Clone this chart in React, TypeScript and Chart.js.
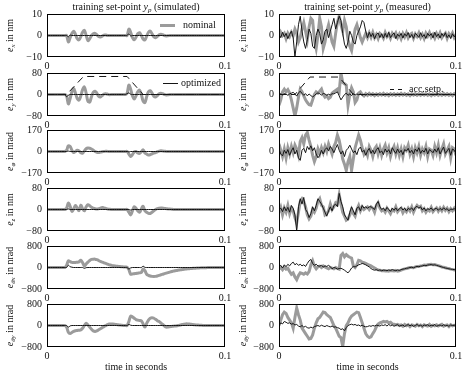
import React, { useEffect, useRef } from "react";
import { Chart, registerables } from "chart.js";

Chart.register(...registerables);

// ---------- data ----------
// sampling grid of all traces: 0 ... 0.1 s, 1 ms step
const TIME = Array.from({ length: 101 }, (_, i) => i / 1000);

const Y_LIMITS = [10, 80, 170, 80, 800, 800];
const X_TICKS = [0, 0.1];
const COLUMN_TITLES = ["(simulated)", "(measured)"];
const Y_SUBSCRIPTS = ["x", "y", "φ", "z", "θx", "θy"];
const Y_UNITS = [" in nm", " in nm", " in nrad", " in nm", " in nrad", " in nrad"];
const LEGEND_LABELS = { nominal: "nominal", optimized: "optimized", setpoint: "acc.setp." };

// acceleration set-point (scaled), drawn dashed in the e_y panels
const SET_SIM_T = [0, 0.011, 0.0205, 0.045, 0.054, 0.1];
const SET_SIM_V = [0, 0, 67, 67, 0, 0];
const SET_MEAS_T = [0, 0.009, 0.0175, 0.034, 0.042, 0.1];
const SET_MEAS_V = [0, 0, 65, 65, 0, 0];

// ----- simulated (left column) -----
const SIM_X_NOM = [
  0, 0, 0, 0, 0, 0, 0, 0, 0, 0,
  0, 0, -3, -1, 1, 2, 0.5, -1.5, -2, -0.5,
  1.5, 2.4, 0, -2.4, -1.5, 0, 0.8, 1, 0.3, -0.5,
  -0.7, -0.3, 0.2, 0.2, 0, 0, 0, 0, 0, 0,
  0, 0, 0, 0, 0, 0, 3, 1.5, -1, -2,
  -0.8, 0.8, 1.3, 0, -1.6, -2, -0.3, 1.5, 2, 0.8,
  -0.6, -1, -0.4, 0.3, 0.6, 0.4, 0, -0.2, -0.1, 0,
  0, 0, 0, 0, 0, 0, 0, 0, 0, 0,
  0, 0, 0, 0, 0, 0, 0, 0, 0, 0,
  0, 0, 0, 0, 0, 0, 0, 0, 0, 0,
  0,
];
const SIM_X_OPT = [
  0, 0, 0, 0, 0, 0, 0, 0, 0, 0,
  0, 0, -0.6, 0.2, 0, 0, 0, 0, 0, 0,
  0, 0, 0, 0, 0, 0, 0, 0, 0, 0,
  0, 0, 0, 0, 0, 0, 0, 0, 0, 0,
  0, 0, 0, 0, 0, 0, 0.8, -0.2, 0, 0,
  0, 0, 0, 0, 0, 0, 0, 0, 0, 0,
  0, 0, 0, 0, 0, 0, 0, 0, 0, 0,
  0, 0, 0, 0, 0, 0, 0, 0, 0, 0,
  0, 0, 0, 0, 0, 0, 0, 0, 0, 0,
  0, 0, 0, 0, 0, 0, 0, 0, 0, 0,
  0,
];
const SIM_Y_NOM = [
  0, 0, 0, 0, 0, 0, 0, 0, 0, 0,
  0, -5, -35, -15, 10, 23, 5, -15, -21, -5,
  18, 28, 5, -25, -28, -8, 8, 12, 5, -6,
  -9, -4, 2, 3, 1, -1, 0, 0, 0, 0,
  0, 0, 0, 0, 0, 5, 35, 20, -5, -17,
  -5, 10, 16, 0, -25, -30, -8, 10, 14, 5,
  -6, -9, -4, 3, 5, 3, 0, -2, -1, 0,
  0, 0, 0, 0, 0, 0, 0, 0, 0, 0,
  0, 0, 0, 0, 0, 0, 0, 0, 0, 0,
  0, 0, 0, 0, 0, 0, 0, 0, 0, 0,
  0,
];
const SIM_Y_OPT = [
  0, 0, 0, 0, 0, 0, 0, 0, 0, 0,
  0, -8, -3, 0, 0, 0, 0, 0, 0, 0,
  0, 0, 0, 0, 0, 0, 0, 0, 0, 0,
  0, 0, 0, 0, 0, 0, 0, 0, 0, 0,
  0, 0, 0, 0, 0, 3, 6, 1, 0, 0,
  0, 0, 0, 0, 0, 0, 0, 0, 0, 0,
  0, 0, 0, 0, 0, 0, 0, 0, 0, 0,
  0, 0, 0, 0, 0, 0, 0, 0, 0, 0,
  0, 0, 0, 0, 0, 0, 0, 0, 0, 0,
  0, 0, 0, 0, 0, 0, 0, 0, 0, 0,
  0,
];
const SIM_PHI_NOM = [
  0, 0, 0, 0, 0, 0, 0, 0, 0, 0,
  0, 10, 45, 40, 10, -8, 0, 10, 5, -10,
  -13, 5, 22, 28, 26, 20, 10, 0, -6, -8,
  -5, -2, 0, 2, 1, 0, 0, 0, 0, 0,
  0, 0, 0, 0, 0, 0, -20, -39, -25, -3,
  0, -12, -15, -2, 13, -12, -20, -28, -25, -18,
  -12, -8, -2, 3, 5, 4, 2, 0, 0, 0,
  0, 0, 0, 0, 0, 0, 0, 0, 0, 0,
  0, 0, 0, 0, 0, 0, 0, 0, 0, 0,
  0, 0, 0, 0, 0, 0, 0, 0, 0, 0,
  0,
];
const SIM_PHI_OPT = [
  0, 0, 0, 0, 0, 0, 0, 0, 0, 0,
  0, 0, 3, 0, 0, 0, 0, 0, 0, 0,
  0, 0, 0, 0, 0, 0, 0, 0, 0, 0,
  0, 0, 0, 0, 0, 0, 0, 0, 0, 0,
  0, 0, 0, 0, 0, 0, -3, 0, 0, 0,
  0, 0, 0, 0, 0, 0, 0, 0, 0, 0,
  0, 0, 0, 0, 0, 0, 0, 0, 0, 0,
  0, 0, 0, 0, 0, 0, 0, 0, 0, 0,
  0, 0, 0, 0, 0, 0, 0, 0, 0, 0,
  0, 0, 0, 0, 0, 0, 0, 0, 0, 0,
  0,
];
const SIM_Z_NOM = [
  0, 0, 0, 0, 0, 0, 0, 0, 0, 0,
  0, 5, 24, 12, -7, 2, 15, 5, -4, 16,
  3, -5, 10, 18, 14, 8, 5, 3, 2, 3,
  5, 7, 6, 4, 2, 1, 0, 0, 0, 0,
  0, 0, 0, 0, 0, 0, -10, -20, -5, 10,
  5, -5, -10, 2, 12, -5, -10, -14, -15, -10,
  -5, 0, 3, 5, 6, 5, 4, 3, 2, 2,
  1, 0, 0, 0, 0, 0, 0, 0, 0, 0,
  0, 0, 0, 0, 0, 0, 0, 0, 0, 0,
  0, 0, 0, 0, 0, 0, 0, 0, 0, 0,
  0,
];
const SIM_Z_OPT = [
  0, 0, 0, 0, 0, 0, 0, 0, 0, 0,
  0, 0, 2, 0, 0, 0, 0, 0, 0, 0,
  0, 0, 0, 0, 0, 0, 0, 0, 0, 0,
  0, 0, 0, 0, 0, 0, 0, 0, 0, 0,
  0, 0, 0, 0, 0, 0, 0, -2, 0, 0,
  0, 0, 0, 0, 0, 0, 0, 0, 0, 0,
  0, 0, 0, 0, 0, 0, 0, 0, 0, 0,
  0, 0, 0, 0, 0, 0, 0, 0, 0, 0,
  0, 0, 0, 0, 0, 0, 0, 0, 0, 0,
  0, 0, 0, 0, 0, 0, 0, 0, 0, 0,
  0,
];
const SIM_TX_NOM = [
  0, 0, 0, 0, 0, 0, 0, 0, 0, 0,
  0, 80, 250, 220, 190, 185, 190, 195, 210, 270,
  180, 60, 130, 200, 260, 300, 310, 310, 290, 260,
  225, 200, 175, 150, 125, 100, 85, 70, 60, 50,
  42, 35, 28, 22, 15, 10, -80, -250, -240, -230,
  -220, -210, -200, -185, -60, -120, -250, -290, -315, -330,
  -335, -330, -315, -295, -270, -250, -230, -210, -190, -170,
  -150, -135, -120, -108, -96, -85, -75, -65, -57, -50,
  -44, -38, -32, -27, -22, -18, -14, -11, -8, -6,
  -4, -3, -2, -1, 0, 0, 0, 0, 0, 0,
  0,
];
const SIM_TX_OPT = [
  0, 0, 0, 0, 0, 0, 0, 0, 0, 0,
  0, 0, 80, 30, 10, 0, 0, 0, 0, 0,
  0, -30, -5, 0, 0, 0, 0, 0, 0, 0,
  0, 0, 0, 0, 0, 0, 0, 0, 0, 0,
  0, 0, 0, 0, 0, 0, -60, -15, 0, 0,
  0, 0, 0, 0, 50, 5, 0, 0, 0, 0,
  0, 0, 0, 0, 0, 0, 0, 0, 0, 0,
  0, 0, 0, 0, 0, 0, 0, 0, 0, 0,
  0, 0, 0, 0, 0, 0, 0, 0, 0, 0,
  0, 0, 0, 0, 0, 0, 0, 0, 0, 0,
  0,
];
const SIM_TY_NOM = [
  0, 0, 0, 0, 0, 0, 0, 0, 0, 0,
  0, -60, -250, -300, -260, -220, -195, -185, -175, -165,
  -100, 0, 85, 20, -60, -140, -200, -220, -200, -160,
  -120, -80, -40, -5, 30, 55, 60, 55, 45, 35,
  25, 15, 8, 4, 2, 0, 150, 350, 320, 270,
  220, 200, 185, 170, 60, -60, 80, 200, 270, 290,
  270, 230, 180, 145, 90, 40, -20, -60, -55, -45,
  -35, -25, -20, -10, 5, 20, 35, 50, 60, 60,
  55, 45, 35, 25, 20, 15, 10, 6, 3, 1,
  0, 0, 0, 0, 0, 0, 0, 0, 0, 0,
  0,
];
const SIM_TY_OPT = [
  0, 0, 0, 0, 0, 0, 0, 0, 0, 0,
  0, 0, -60, -15, 0, 0, 0, 0, 0, 0,
  0, 0, 0, 0, 0, 0, 0, 0, 0, 0,
  0, 0, 0, 0, 0, 0, 0, 0, 0, 0,
  0, 0, 0, 0, 0, 0, 40, 10, 0, 0,
  0, 0, 0, 0, 0, 0, 0, 0, 0, 0,
  0, 0, 0, 0, 0, 0, 0, 0, 0, 0,
  0, 0, 0, 0, 0, 0, 0, 0, 0, 0,
  0, 0, 0, 0, 0, 0, 0, 0, 0, 0,
  0, 0, 0, 0, 0, 0, 0, 0, 0, 0,
  0,
];

// ----- measured (right column) -----
const MEAS_X_NOM = [
  -1, 1.5, 0, 1, -1.5, 1, -0.5, 1.5, 0, 3,
  1, -3, -1, 3, 6, 2, -2, 4, 8, 7,
  -2, -6, 0, 8, 4, -6, -3, 2, 5, 1,
  -3, -5, 1, 6, 9, 5, 2, 7, 4, -2,
  -5, -7, -2, 3, 5, 2, -1, -3, -1, 1,
  -1, 1.2, -0.8, 1.5, -1, 0.5, -1.4, 1, 0.3, -1.2,
  1.4, -0.5, 0.8, -1.3, 1, -0.2, 1.2, -1, 0.6, -1.5,
  0.9, -0.7, 1.3, -1.1, 0.4, 1, -1.3, 0.7, -0.5, 1.2,
  -1, 0.6, -1.4, 1.1, -0.3, 1.4, -0.8, 0.5, -1.2, 1,
  -0.6, 1.3, -1, 0.2, 1.1, -1.3, 0.8, -0.4, 1.2, -1,
  0.4,
];
const MEAS_X_OPT = [
  0.5, -1, 1.5, -0.5, 1, -1.5, 0.5, 2, -1, -10,
  -3, 5, 9, 2, -3, -6, -2, 3, 1, -5,
  -6, 0, 3, 1, -4, -2, 2, 3, -1, 2,
  5, 8, 3, 6, 9, 7, 1, -4, -6, -3,
  2, 0, -3, -4, 0, 2, 4, 7, 6, 2,
  -1, 1.5, -0.5, 1, -1.5, 0.5, 1.2, -1, 0.8, -1.2,
  1, -0.8, 1.5, -1, 0.3, 1.2, -1.5, 0.6, -0.4, 1,
  -1.2, 0.8, -0.3, 1.4, -1, 0.5, -1.3, 1, 0.2, -0.9,
  1.3, -0.6, 0.4, -1.4, 1, -0.2, 0.9, -1.1, 1.5, -0.5,
  0.7, -1.2, 1, -0.4, 1.3, -1, 0.3, -1.4, 0.8, -0.6,
  0.5,
];
const MEAS_Y_NOM = [
  -40, -20, 10, 20, 10, 18, 5, -20, -50, -80,
  -50, -10, 20, 10, -5, -20, -30, -38, -40, -20,
  0, 10, 5, 12, 20, 0, -10, -5, -15, -10,
  5, 10, 15, 20, 10, 80, 45, 40, 35, -40,
  0, 25, 10, -30, -20, 5, 10, 0, -5, 3,
  -3, 4, -2, 3, -4, 2, -3, 3, -2, 4,
  -3, 2, -4, 3, -2, 3, -3, 2, -3, 4,
  -2, 3, -3, 2, -4, 3, -2, 3, -3, 2,
  -3, 4, -2, 3, -3, 2, -4, 3, -2, 3,
  -3, 2, -3, 4, -2, 3, -3, 2, -4, 3,
  -2,
];
const MEAS_Y_OPT = [
  0, 3, -2, 4, 1, -3, 2, 5, 8, 2,
  -6, 6, 12, 4, -3, 3, -5, 2, -4, -9,
  -4, 2, 6, 3, -2, 4, 2, -3, 1, -2,
  3, 2, 6, 10, -5, -20, -10, 0, 5, -3,
  2, -4, 3, -2, 2, -1, 2, -3, 1, -2,
  2, -1, 1.5, -2, 1, -1.5, 2, -1, 0.5, -2,
  1.5, -1, 2, -1.5, 1, -2, 1, -0.5, 1.5, -1,
  1, -1.5, 2, -1, 0.5, -1.5, 1, -2, 1.5, -0.5,
  1, -1.5, 0.5, -1, 2, -1, 1, -1.5, 0.5, -1,
  1.5, -0.5, 1, -1.5, 0.5, -1, 1.5, -1, 0.5, -0.5,
  1,
];
const MEAS_PHI_NOM = [
  60, 10, -40, 20, -50, 30, -20, 40, -10, 50,
  20, -30, 80, 110, 60, 130, 150, 90, 40, -30,
  -80, -40, 20, -20, 30, -10, 40, 0, 60, 20,
  -20, 40, 70, 130, 90, 20, -60, -100, -150, -80,
  -40, -150, -60, 30, 80, 130, 90, 30, -20, 10,
  -30, 40, 10, -40, 20, 40, -20, 30, -30, 20,
  50, -10, 30, -40, 10, 40, -20, 30, -30, 20,
  -40, 30, 10, 50, -20, 20, -40, 30, -10, 40,
  -30, 20, -10, 40, -40, 20, 10, -30, 40, -10,
  50, -30, 20, 60, -20, 10, 40, -50, 30, 20,
  -30,
];
const MEAS_PHI_OPT = [
  20, -20, -35, 10, -15, 15, -30, 5, 30, -20,
  10, -50, -70, 10, 25, -10, 40, 15, 45, 5,
  30, -20, -50, -30, 10, -20, 15, 30, 5, 40,
  20, -10, 25, 55, 10, -20, 5, -40, 10, 25,
  50, 20, -10, 5, -25, 20, 35, -5, 10, -30,
  5, 25, -15, 10, -20, 15, 30, -10, 5, -25,
  20, -5, 15, -20, 30, 5, -15, 20, -10, 10,
  -25, 15, 5, 25, -10, 10, -20, 20, 0, 30,
  -15, 10, -5, 25, -20, 15, 5, -10, 20, -5,
  30, -20, 10, 35, -15, 5, 25, -30, 20, 10,
  -15,
];
const MEAS_Z_NOM = [
  -10, 8, -20, 5, -10, 15, -15, 5, -5, -30,
  -50, -10, 30, 40, 30, 10, -20, -35, -25, 0,
  -10, 5, 30, 40, 15, 10, -20, -15, -5, 20,
  0, 10, 25, 20, 55, 20, -10, -25, -40, -35,
  -20, 0, -15, -25, 0, 15, -5, 10, 0, 5,
  10, 0, 10, 5, -10, 15, 25, 5, -5, 0,
  -10, 5, -5, -15, 0, -5, 10, -8, 0, 5,
  -12, 0, -8, 5, -5, 10, -10, 5, 15, 8,
  12, -5, 3, -10, 0, -5, 8, -8, 0, 6,
  -6, 5, -5, 8, -3, 5, -8, 3, -5, 5,
  -5,
];
const MEAS_Z_OPT = [
  0, 5, -8, 10, -5, 8, -10, 15, 5, -20,
  -80, 10, 40, 20, 45, 0, -10, -30, -15, 10,
  -5, 15, 40, 30, 20, 5, -10, -25, -5, 10,
  -5, 15, 20, 10, 60, 30, 10, -20, -30, -40,
  -10, 10, -5, -20, 5, 10, -5, 15, 5, 10,
  5, 10, 10, 5, 0, 20, 30, 10, 0, 5,
  -5, 8, 0, -8, 5, -3, 6, -5, 3, 8,
  -2, 5, -6, 4, 0, 6, -4, 8, 12, 5,
  10, -2, 6, -5, 3, 0, 6, -4, 2, 5,
  -3, 4, -2, 6, 0, 3, -5, 2, 0, 3,
  -2,
];
const MEAS_TX_NOM = [
  -50, 0, -80, 20, -60, -30, -150, -250, -200, -350,
  -450, -300, -200, -220, -250, -200, -240, -150, 100, 250,
  50, -50, 30, 50, 0, 60, 20, -20, -50, 0,
  -20, -50, 0, -30, -60, 450, 520, 400, 480, 420,
  380, 350, 60, 0, 100, 270, 250, 200, 180, 150,
  120, 90, 60, 20, -20, -60, -90, -100, -120, -110,
  -130, -120, -140, -110, -120, -130, -110, -140, -120, -100,
  -70, -50, -40, -20, 0, 0, -10, 20, 40, 40,
  60, 70, 90, 80, 100, 110, 120, 100, 110, 90,
  70, 50, 20, 10, -10, -30, -40, -60, -70, -90,
  -80,
];
const MEAS_TX_OPT = [
  50, 80, -20, 100, 30, 120, 60, 150, 200, 100,
  150, 80, 120, 60, 100, 40, 150, 250, 300, 150,
  80, 120, 60, 50, 80, 20, 60, 40, 80, 30,
  -50, 0, -20, -60, -40, -30, -60, -100, -150, -200,
  -120, -20, 40, 20, 60, 100, 120, 150, 130, 100,
  60, 20, -40, -80, -100, -80, -110, -90, -120, -100,
  -100, -120, -90, -110, -80, -100, -120, -90, -110, -80,
  -60, -50, -30, -20, 0, 10, -10, 20, 40, 30,
  50, 60, 80, 70, 90, 100, 110, 90, 100, 80,
  60, 40, 20, 0, -20, -30, -50, -60, -70, -80,
  -70,
];
const MEAS_TY_NOM = [
  0, 200, 400, 500, 450, 300, 200, 100, -100, 300,
  650, 400, 200, -100, -200, -300, -400, -500, -480, -350,
  -100, 100, 250, 300, 400, 500, 480, 400, 350, 300,
  150, 0, -100, -250, -400, -450, -780, -300, 0, 100,
  250, 350, 400, 450, 500, 480, 300, 100, -100, -300,
  -400, -450, -420, -300, -200, -50, 50, 100, 120, 150,
  130, 150, 100, 120, 60, 50, 20, 40, 0, 20,
  -30, 40, -10, 30, -40, 20, 0, -30, 40, -10,
  20, -40, 30, 0, -20, 40, -30, 10, -10, 30,
  -20, 10, 40, -30, 0, 20, -40, 30, -10, 10,
  0,
];
const MEAS_TY_OPT = [
  0, 100, 60, 150, 120, 80, 100, 50, 70, 20,
  40, -20, -50, 0, -60, -30, -80, -100, -60, -90,
  -40, -20, 0, -30, 10, -20, -40, 0, -30, -50,
  -20, -60, -50, -80, -100, -150, -120, -200, -80, 0,
  30, 50, 20, 40, 0, 20, -20, 10, -30, -50,
  -40, -10, -30, 0, -20, 10, 0, -20, 20, 0,
  30, -20, 40, -10, 20, -30, 10, 30, -20, 0,
  20, -40, 10, 30, -10, 20, -30, 0, 40, -20,
  10, -30, 20, 0, 30, -20, 10, -10, 40, -30,
  0, 20, -20, 30, -10, 10, -30, 20, 0, 10,
  0,
];

const SIM_NOM = [SIM_X_NOM, SIM_Y_NOM, SIM_PHI_NOM, SIM_Z_NOM, SIM_TX_NOM, SIM_TY_NOM];
const SIM_OPT = [SIM_X_OPT, SIM_Y_OPT, SIM_PHI_OPT, SIM_Z_OPT, SIM_TX_OPT, SIM_TY_OPT];
const MEAS_NOM = [MEAS_X_NOM, MEAS_Y_NOM, MEAS_PHI_NOM, MEAS_Z_NOM, MEAS_TX_NOM, MEAS_TY_NOM];
const MEAS_OPT = [MEAS_X_OPT, MEAS_Y_OPT, MEAS_PHI_OPT, MEAS_Z_OPT, MEAS_TX_OPT, MEAS_TY_OPT];

// ---------- layout / style ----------
const W = 474;
const H = 384;
const FONT = '"Liberation Serif", "Times New Roman", serif';
const GRAY = "#9b9b9b";
const BLACK = "#151515";
const TEXT = "#111";
const PLOT_TOPS = [14, 73, 130, 188, 246, 304];
const PLOT_H = 43;
const X_AXIS_H = 20;
const COLS = [
  { canvasX: 0, canvasW: 236, plotL: 47, plotR: 225, yTitleX: 9 },
  { canvasX: 236, canvasW: 238, plotL: 279, plotR: 456, yTitleX: 242 },
];

type Seg = { t: string; it?: boolean; sub?: boolean };

function drawRich(ctx: CanvasRenderingContext2D, segs: Seg[], x: number, y: number, rotate: boolean) {
  ctx.save();
  ctx.translate(x, y);
  if (rotate) ctx.rotate(-Math.PI / 2);
  const fontFor = (s: Seg) => `${s.it ? "italic " : ""}${s.sub ? 7 : 10}px ${FONT}`;
  const widths = segs.map((s) => {
    ctx.font = fontFor(s);
    return ctx.measureText(s.t).width;
  });
  const total = widths.reduce((a, b) => a + b, 0);
  let cx = -total / 2;
  ctx.fillStyle = TEXT;
  ctx.textAlign = "left";
  ctx.textBaseline = "alphabetic";
  segs.forEach((s, i) => {
    ctx.font = fontFor(s);
    ctx.fillText(s.t, cx, s.sub ? 5.5 : 3.5);
    cx += widths[i];
  });
  ctx.restore();
}

type Legend = { kind: "nominal" | "optimized" | "setpoint"; dx: number; dy: number; gap: number };

type Panel = {
  col: number;
  row: number;
  nom: number[];
  opt: number[];
  setT?: number[];
  setV?: number[];
  legend?: Legend;
};

const PANELS: Panel[] = [];
for (let col = 0; col < 2; col++) {
  for (let row = 0; row < 6; row++) {
    const p: Panel = {
      col,
      row,
      nom: col === 0 ? SIM_NOM[row] : MEAS_NOM[row],
      opt: col === 0 ? SIM_OPT[row] : MEAS_OPT[row],
    };
    if (row === 1) {
      p.setT = col === 0 ? SET_SIM_T : SET_MEAS_T;
      p.setV = col === 0 ? SET_SIM_V : SET_MEAS_V;
    }
    if (col === 0 && row === 0) p.legend = { kind: "nominal", dx: 113, dy: 11, gap: 23 };
    if (col === 0 && row === 1) p.legend = { kind: "optimized", dx: 116, dy: 10, gap: 18 };
    if (col === 1 && row === 1) p.legend = { kind: "setpoint", dx: 111, dy: 16, gap: 19 };
    PANELS.push(p);
  }
}

const toPoints = (vals: number[]) => vals.map((y, i) => ({ x: TIME[i], y }));
const toXY = (ts: number[], vs: number[]) => ts.map((x, i) => ({ x, y: vs[i] }));
const fmt = (v: number) => (v < 0 ? "\u2212" + Math.abs(v) : String(v));

function makeChart(canvas: HTMLCanvasElement, p: Panel) {
  const c = COLS[p.col];
  const lim = Y_LIMITS[p.row];
  const top = PLOT_TOPS[p.row];
  const smooth = p.col === 0 ? 0.35 : 0;

  const datasets: any[] = [
    {
      label: LEGEND_LABELS.optimized,
      data: toPoints(p.opt),
      borderColor: BLACK,
      borderWidth: 1,
      pointRadius: 0,
      tension: smooth,
      order: 0,
    },
    {
      label: LEGEND_LABELS.nominal,
      data: toPoints(p.nom),
      borderColor: GRAY,
      borderWidth: 3,
      pointRadius: 0,
      tension: smooth,
      order: 1,
    },
  ];
  if (p.setT && p.setV) {
    datasets.push({
      label: LEGEND_LABELS.setpoint,
      data: toXY(p.setT, p.setV),
      borderColor: BLACK,
      borderWidth: 1,
      borderDash: [7, 5],
      pointRadius: 0,
      tension: 0,
      order: -1,
    });
  }

  const decor = {
    id: "decor" + p.col + p.row,
    afterDraw(chart: any) {
      const ctx: CanvasRenderingContext2D = chart.ctx;
      const a = chart.chartArea;
      // frame
      ctx.save();
      ctx.strokeStyle = "#000";
      ctx.lineWidth = 1;
      ctx.strokeRect(Math.round(a.left) + 0.5, Math.round(a.top) + 0.5, Math.round(a.right - a.left) - 1, Math.round(a.bottom - a.top) - 1);
      ctx.restore();
      // y title
      drawRich(
        ctx,
        [{ t: "e", it: true }, { t: Y_SUBSCRIPTS[p.row], it: true, sub: true }, { t: Y_UNITS[p.row] }],
        c.yTitleX - c.canvasX,
        (a.top + a.bottom) / 2,
        true
      );
      const cx = (a.left + a.right) / 2;
      if (p.row === 0) {
        drawRich(
          ctx,
          [{ t: "training set-point " }, { t: "y", it: true }, { t: "p", it: true, sub: true }, { t: " " + COLUMN_TITLES[p.col] }],
          cx,
          6.5,
          false
        );
      }
      if (p.row === 5) {
        drawRich(ctx, [{ t: "time in seconds" }], cx, 366, false);
      }
      if (p.legend) {
        const L = p.legend;
        const x0 = a.left + L.dx;
        const y0 = a.top + L.dy;
        ctx.save();
        ctx.beginPath();
        if (L.kind === "nominal") {
          ctx.strokeStyle = GRAY;
          ctx.lineWidth = 3;
        } else {
          ctx.strokeStyle = BLACK;
          ctx.lineWidth = 1;
        }
        if (L.kind === "setpoint") ctx.setLineDash([4, 4]);
        ctx.moveTo(x0, y0 + 0.5);
        ctx.lineTo(x0 + (L.kind === "setpoint" ? 12 : 15), y0 + 0.5);
        ctx.stroke();
        ctx.setLineDash([]);
        ctx.fillStyle = TEXT;
        ctx.font = `10px ${FONT}`;
        ctx.textAlign = "left";
        ctx.textBaseline = "middle";
        ctx.fillText(LEGEND_LABELS[L.kind], x0 + L.gap, y0 + 0.5);
        ctx.restore();
      }
    },
  };

  return new Chart(canvas, {
    type: "line",
    data: { datasets },
    options: {
      responsive: false,
      animation: false,
      events: [],
      layout: {
        padding: {
          left: 0,
          right: c.canvasX + c.canvasW - c.plotR,
          top,
          bottom: H - top - PLOT_H - X_AXIS_H,
        },
      },
      plugins: { legend: { display: false }, tooltip: { enabled: false } },
      scales: {
        x: {
          type: "linear",
          min: X_TICKS[0],
          max: X_TICKS[1],
          grid: { display: false, drawTicks: false },
          border: { display: false },
          ticks: {
            color: TEXT,
            font: { family: FONT, size: 10 },
            padding: 3,
            maxRotation: 0,
            autoSkip: false,
            callback: (v: any) => (Math.abs(v) < 1e-9 ? "0" : String(X_TICKS[1])),
          },
          afterBuildTicks: (s: any) => {
            s.ticks = X_TICKS.map((value) => ({ value }));
          },
          afterFit: (s: any) => {
            s.height = X_AXIS_H;
          },
        },
        y: {
          type: "linear",
          min: -lim,
          max: lim,
          grid: { display: false, drawTicks: false },
          border: { display: false },
          ticks: {
            color: TEXT,
            font: { family: FONT, size: 10 },
            padding: 5,
            autoSkip: false,
            callback: (v: any) => fmt(v),
          },
          afterBuildTicks: (s: any) => {
            s.ticks = [-lim, 0, lim].map((value) => ({ value }));
          },
          afterFit: (s: any) => {
            s.width = c.plotL - c.canvasX;
          },
        },
      },
    },
    plugins: [decor],
  } as any);
}

export default function App() {
  const refs = useRef<(HTMLCanvasElement | null)[]>([]);
  useEffect(() => {
    const charts = PANELS.map((p, i) => makeChart(refs.current[i] as HTMLCanvasElement, p));
    return () => charts.forEach((ch) => ch.destroy());
  }, []);
  return (
    <div style={{ position: "fixed", left: 0, top: 0, width: W, height: H, background: "#fff" }}>
      {PANELS.map((p, i) => {
        const c = COLS[p.col];
        return (
          <canvas
            key={i}
            ref={(el) => {
              refs.current[i] = el;
            }}
            width={c.canvasW}
            height={H}
            style={{ position: "absolute", left: c.canvasX, top: 0, width: c.canvasW, height: H }}
          />
        );
      })}
    </div>
  );
}
